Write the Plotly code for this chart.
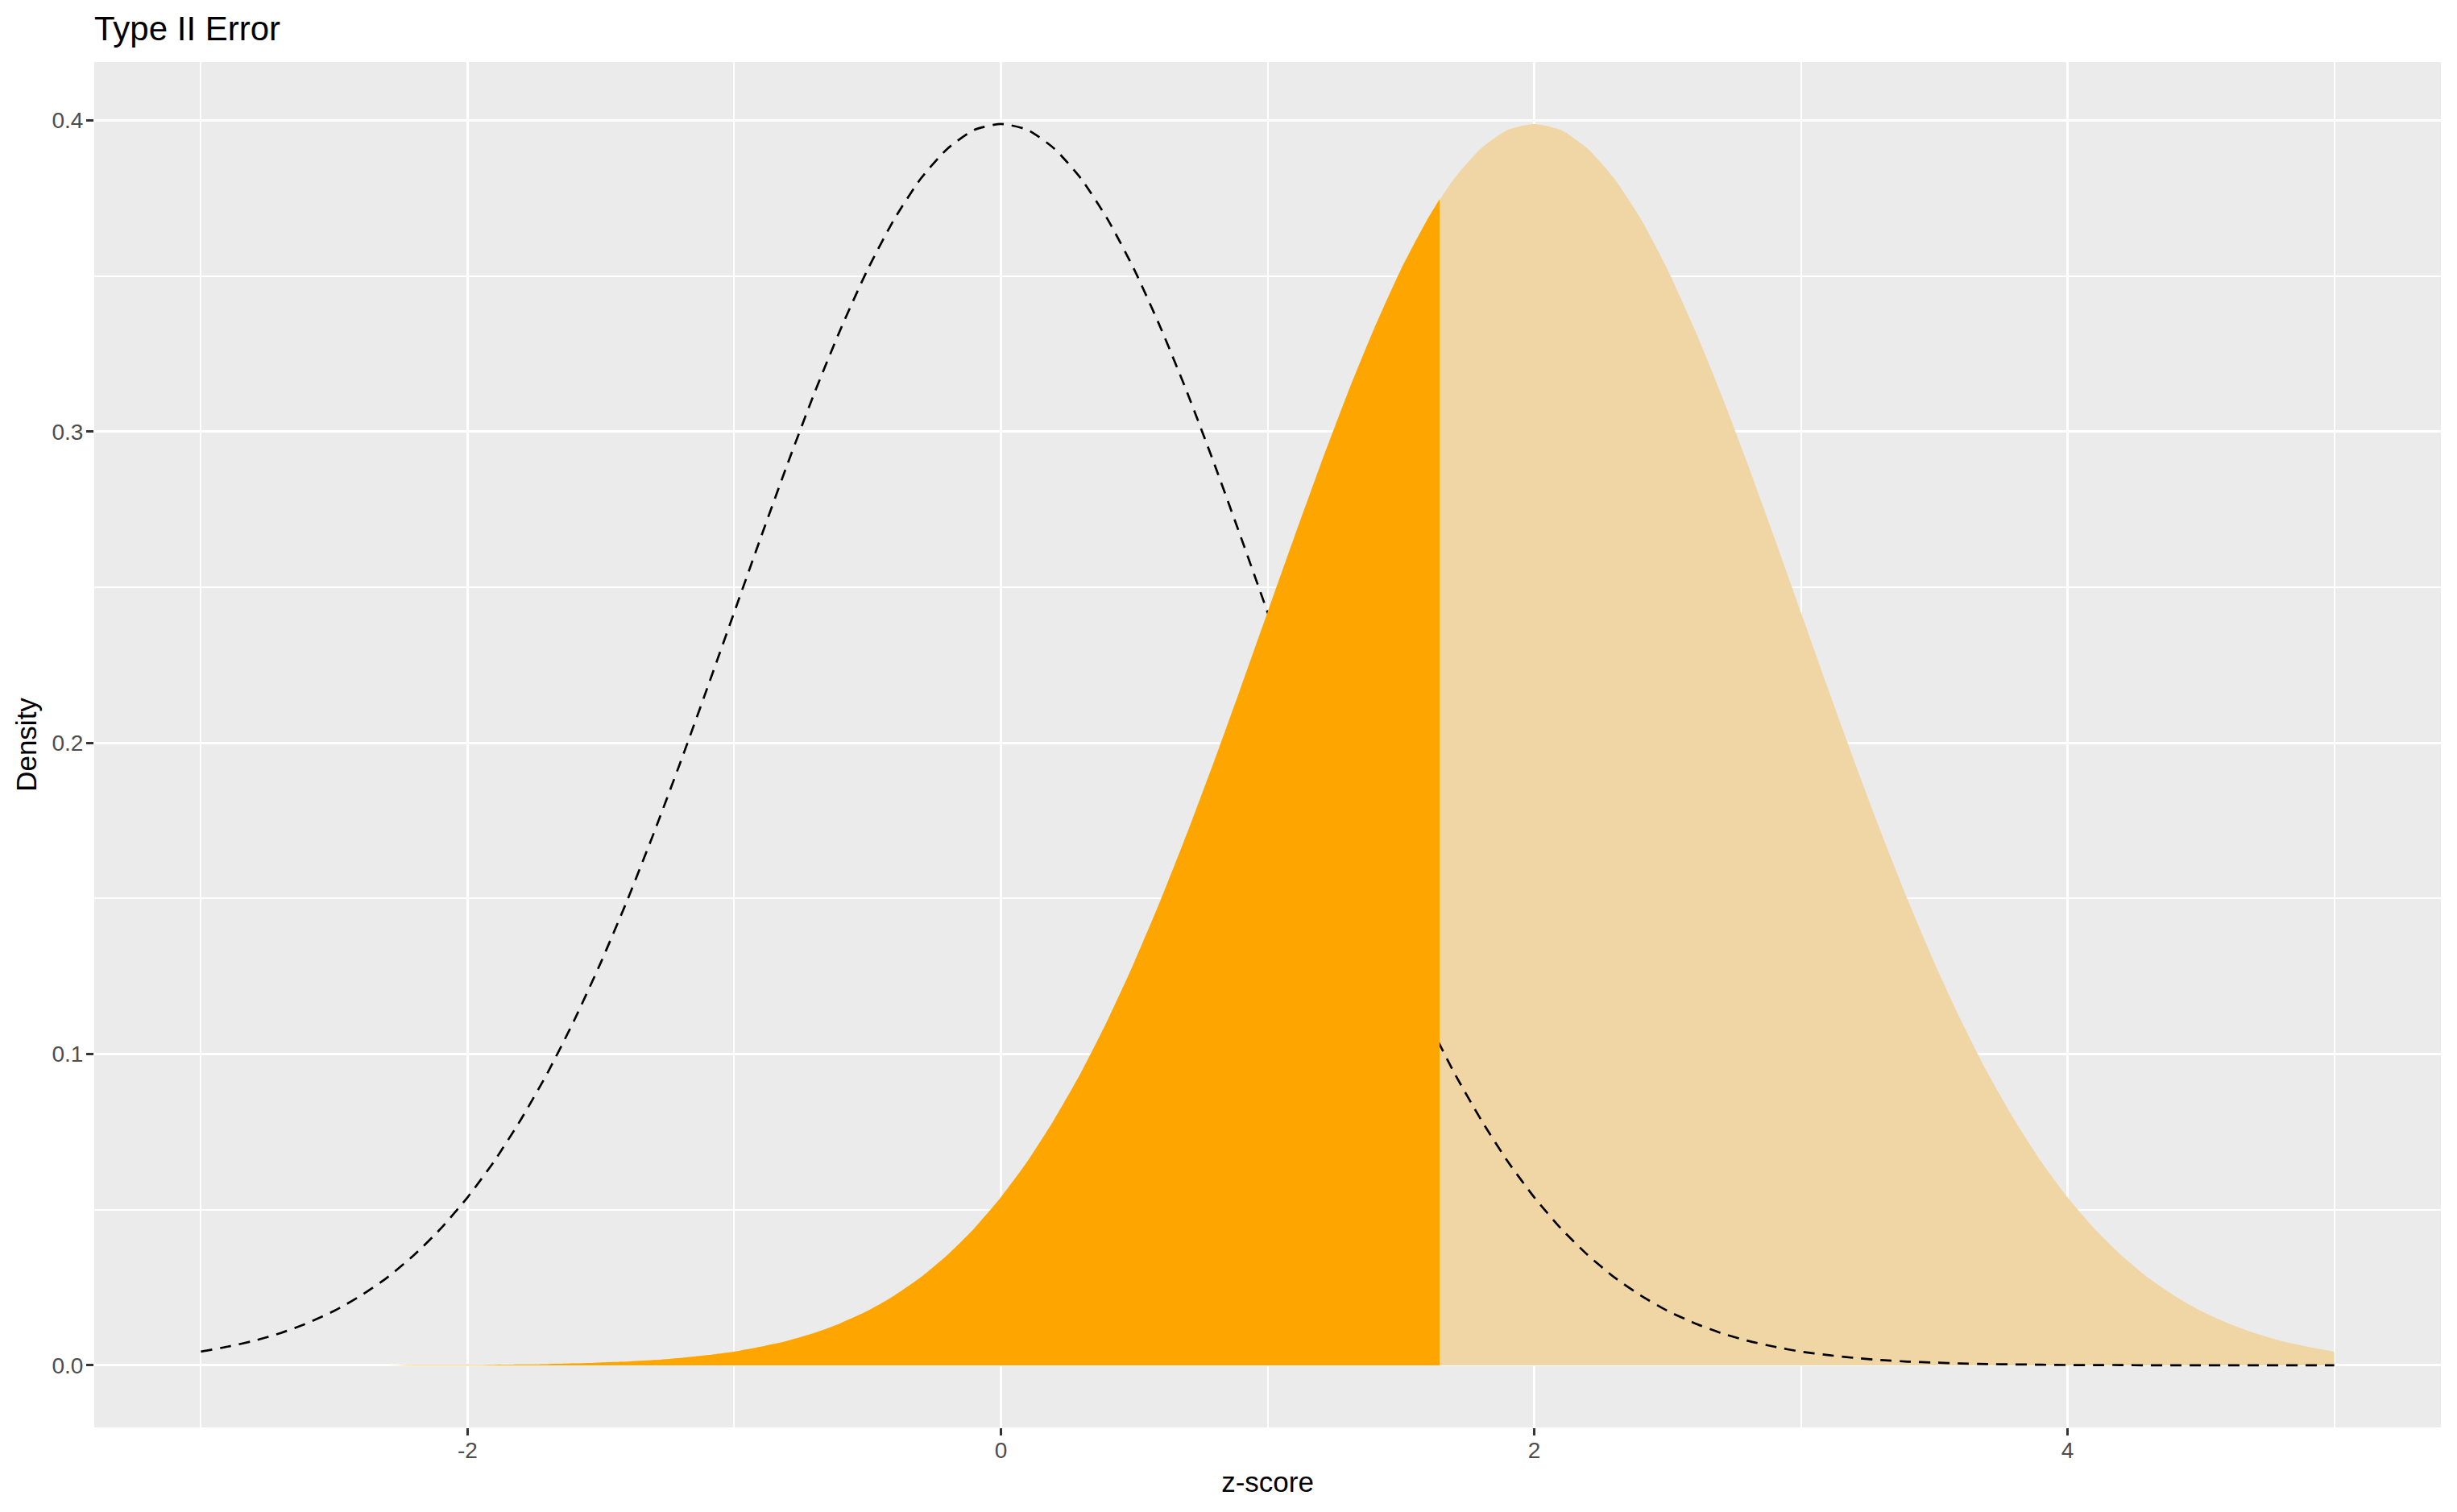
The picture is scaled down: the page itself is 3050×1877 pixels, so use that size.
import numpy as np
import plotly.graph_objects as go

# z grid for the null curve and the alternative curve
null_x = np.round(np.arange(-30, 51) / 10, 1)
null_density = [
    0.0044, 0.0060, 0.0079, 0.0104, 0.0136, 0.0175, 0.0224, 0.0283, 0.0355, 0.0440,
    0.0540, 0.0656, 0.0790, 0.0940, 0.1109, 0.1295, 0.1497, 0.1714, 0.1942, 0.2179,
    0.2420, 0.2661, 0.2897, 0.3123, 0.3332, 0.3521, 0.3683, 0.3814, 0.3910, 0.3970,
    0.3989,
    0.3970, 0.3910, 0.3814, 0.3683, 0.3521, 0.3332, 0.3123, 0.2897, 0.2661, 0.2420,
    0.2179, 0.1942, 0.1714, 0.1497, 0.1295, 0.1109, 0.0940, 0.0790, 0.0656, 0.0540,
    0.0440, 0.0355, 0.0283, 0.0224, 0.0175, 0.0136, 0.0104, 0.0079, 0.0060, 0.0044,
    0.0033, 0.0024, 0.0017, 0.0012, 0.0009, 0.0006, 0.0004, 0.0003, 0.0002, 0.0001,
    0.0001, 0.0001, 0.0000, 0.0000, 0.0000, 0.0000, 0.0000, 0.0000, 0.0000, 0.0000,
]

alt_x = np.round(np.arange(-23, 51) / 10, 1)
alt_density = [
    0.0000, 0.0001, 0.0001, 0.0001, 0.0002, 0.0003, 0.0004, 0.0006, 0.0009, 0.0012,
    0.0017, 0.0024, 0.0033, 0.0044,
    0.0060, 0.0079, 0.0104, 0.0136, 0.0175, 0.0224, 0.0283, 0.0355, 0.0440, 0.0540,
    0.0656, 0.0790, 0.0940, 0.1109, 0.1295, 0.1497, 0.1714, 0.1942, 0.2179, 0.2420,
    0.2661, 0.2897, 0.3123, 0.3332, 0.3521, 0.3683, 0.3814, 0.3910, 0.3970,
    0.3989,
    0.3970, 0.3910, 0.3814, 0.3683, 0.3521, 0.3332, 0.3123, 0.2897, 0.2661, 0.2420,
    0.2179, 0.1942, 0.1714, 0.1497, 0.1295, 0.1109, 0.0940, 0.0790, 0.0656, 0.0540,
    0.0440, 0.0355, 0.0283, 0.0224, 0.0175, 0.0136, 0.0104, 0.0079, 0.0060, 0.0044,
]

crit_z = 1.645
crit_density = 0.3747

x_tickvals = [-2, 0, 2, 4]
x_ticktext = ["-2", "0", "2", "4"]
y_tickvals = [0.0, 0.1, 0.2, 0.3, 0.4]
y_ticktext = ["0.0", "0.1", "0.2", "0.3", "0.4"]

n_beta = int(np.sum(alt_x <= 1.6))
beta_x = list(alt_x[:n_beta]) + [crit_z]
beta_y = alt_density[:n_beta] + [crit_density]

FONT = "Liberation Sans, Arial, sans-serif"

fig = go.Figure()
fig.add_trace(go.Scatter(x=alt_x, y=alt_density, mode="lines", fill="tozeroy",
                         line=dict(width=0, shape="spline", smoothing=0.6),
                         fillcolor="#F1D6A5", hoverinfo="skip"))
fig.add_trace(go.Scatter(x=null_x, y=null_density, mode="lines",
                         line=dict(color="black", width=2.7, dash="14px,10px",
                                   shape="spline", smoothing=0.6)))
fig.add_trace(go.Scatter(x=beta_x, y=beta_y, mode="lines", fill="tozeroy",
                         line=dict(width=0, shape="spline", smoothing=0.6),
                         fillcolor="#FFA500", hoverinfo="skip"))

# page body adds an 8px offset, margins compensate for it
fig.update_layout(
    width=3050, height=1877,
    margin=dict(l=109, r=28, t=69, b=113),
    paper_bgcolor="white", plot_bgcolor="#EBEBEB",
    showlegend=False,
    font=dict(family=FONT, color="black"),
    title=dict(text="Type II Error", font=dict(size=42, color="black"),
               x=0, xref="paper", xanchor="left",
               y=1 - 27 / 1877, yref="container", yanchor="middle"),
)
fig.update_xaxes(
    range=[-3.4, 5.4], tickvals=x_tickvals, ticktext=x_ticktext,
    showgrid=True, gridcolor="white", gridwidth=3, zeroline=False,
    minor=dict(tickvals=[-3, -1, 1, 3, 5], showgrid=True, gridcolor="white", gridwidth=1.5, ticks=""),
    ticks="outside", ticklen=9, tickwidth=3, tickcolor="#333333",
    tickfont=dict(size=28, color="#4D4D4D"), ticklabelstandoff=-6,
    title=dict(text="z-score", font=dict(size=35, color="black"), standoff=12),
)
fig.update_yaxes(
    range=[-0.01995, 0.4188], tickvals=y_tickvals, ticktext=y_ticktext,
    showgrid=True, gridcolor="white", gridwidth=3, zeroline=False,
    minor=dict(tickvals=[0.05, 0.15, 0.25, 0.35], showgrid=True, gridcolor="white", gridwidth=1.5, ticks=""),
    ticks="outside", ticklen=9, tickwidth=3, tickcolor="#333333",
    tickfont=dict(size=28, color="#4D4D4D"), ticklabelstandoff=-2,
    title=dict(text="Density", font=dict(size=35, color="black"), standoff=8),
)

fig.write_html("out.html")
